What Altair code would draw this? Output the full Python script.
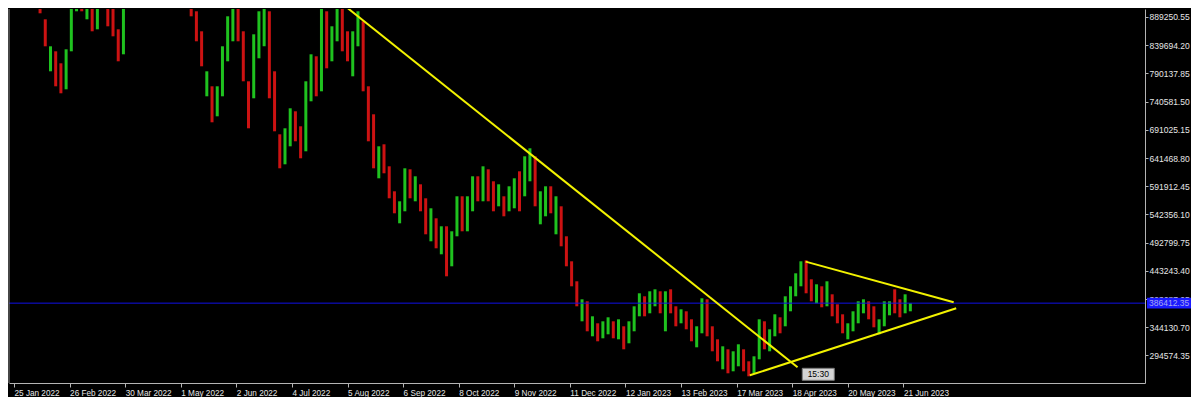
import altair as alt
import pandas as pd

# ---------------- data ----------------
start_date = "2022-01-22"          # first 3-day candle
opens = [
    950000, 975000, 948000, 968000, 945000, 940000, 916840, 885210, 793830, 828970,
    807890, 762200, 828970, 899270, 922110, 885210, 910000, 867640, 925600, 930000,
    908050, 867640, 823700, 920000, 955000, 932000, 960000, 988000, 962000, 935000,
    960000, 908050, 925000, 955000, 925000, 916840, 899270, 864120, 749900, 767470,
    714750, 749900, 811400, 846550, 916840, 864120, 776260, 746380, 816680, 837760,
    899270, 793830, 683120, 630400, 662030, 723540, 697180, 653250, 741110, 820190,
    758680, 899270, 811400, 846550, 908050, 864120, 785040, 837760, 881690, 767470,
    718270, 605800, 665550, 626880, 582950, 526720, 547810, 621610, 565380, 595260,
    570650, 495090, 535500, 472250, 521450, 451160, 503880, 574170, 512660, 547810,
    609310, 565380, 621610, 600530, 556590, 574170, 547810, 553080, 618100, 574170,
    600530, 644460, 524960, 539020, 591740, 507390, 556590, 503880, 459940, 424800,
    354480, 389650, 328140, 350990, 324630, 331660, 354480, 322870, 345720, 315840,
    336930, 363290, 398450, 368560, 380860, 407230, 336930, 410740, 380860, 350990,
    372080, 358020, 308810, 333420, 393160, 345720, 322870, 270160, 305300, 266640,
    275430, 305300, 284210, 263130, 287730, 354480, 301790, 328140, 361530, 345720,
    372080, 398450, 416010, 461700, 428310, 386130, 416010, 380860, 401950, 384380,
    366800, 322870, 336930, 350990, 368560, 389650, 380860, 331660, 345720, 365050,
    410740, 393160, 368560, 372080,
]
closes = [
    975000, 955000, 972000, 940000, 922000, 918000, 895750, 837760, 837760, 767470,
    755170, 832490, 908050, 925600, 899270, 916840, 864120, 925600, 958000, 872910,
    855330, 811400, 916840, 952000, 930000, 965000, 985000, 960000, 938000, 962000,
    925000, 930000, 958000, 930000, 908050, 890480, 846550, 802620, 793830, 704210,
    767470, 837760, 890480, 916840, 846550, 776260, 693670, 858850, 899270, 916840,
    746380, 688390, 623370, 693670, 728810, 670820, 640950, 776260, 823700, 749900,
    908050, 799100, 872910, 916840, 828970, 811400, 864120, 899270, 758680, 670820,
    623370, 662030, 614590, 570650, 544290, 565380, 623370, 570650, 609310, 547810,
    507390, 553080, 482790, 521450, 433590, 512660, 574170, 512660, 574170, 609310,
    565380, 626880, 565380, 547810, 595260, 539020, 591740, 605800, 547810, 644460,
    658520, 556590, 582950, 591740, 544290, 574170, 486310, 451160, 416010, 380860,
    393160, 336930, 363290, 319360, 354480, 361530, 324630, 358020, 305300, 354480,
    380860, 403720, 363290, 407230, 410740, 368560, 407230, 368560, 345720, 375590,
    340440, 319360, 345720, 394940, 328140, 301790, 284210, 310570, 263130, 301790,
    314090, 266640, 257860, 293000, 358020, 305300, 340440, 366800, 333420, 398450,
    416010, 438850, 459940, 403720, 389650, 419520, 379110, 424800, 363290, 350990,
    333420, 350990, 372080, 389650, 393160, 358020, 343960, 358020, 389650, 389650,
    368560, 361530, 401950, 386412.35,
]

tick_dates = [
    "2022-01-25", "2022-02-26", "2022-03-30", "2022-05-01", "2022-06-02", "2022-07-04",
    "2022-08-05", "2022-09-06", "2022-10-08", "2022-11-09", "2022-12-11", "2023-01-12",
    "2023-02-13", "2023-03-17", "2023-04-18", "2023-05-20", "2023-06-21",
]
price_ticks = [
    889250.55, 839694.20, 790137.85, 740581.50, 691025.15, 641468.80, 591912.45,
    542356.10, 492799.75, 443243.40, 393687.05, 344130.70, 294574.35,
]

# hand-drawn trend lines (start / end in date & price)
trend_start = ["2022-07-31T04:00:00Z", "2023-04-25T17:00:00Z", "2023-03-24T14:00:00Z"]
trend_end = ["2023-04-21T02:00:00Z", "2023-07-19T23:00:00Z", "2023-07-21T10:00:00Z"]
trend_p1 = [916840, 459420, 259610]
trend_p2 = [273670, 387890, 377350]

bid_price = [386412.35]
bid_label = ["386412.35"]

tag_date = ["2023-05-03T00:00:00Z"]
tag_price = [261370]
tag_text = ["15:30"]

x_domain = ["2022-01-25T00:00:00Z", "2023-11-04T05:00:00Z"]
y_domain = [246078, 903308]

# ---------------- tables ----------------
dates = pd.date_range(start_date, periods=len(opens), freq="3D")
candles = pd.DataFrame({
    "date": [d.strftime("%Y-%m-%dT%H:%M:%SZ") for d in dates],
    "open": opens,
    "close": closes,
})
candles["dir"] = ["up" if c >= o else "down" for o, c in zip(opens, closes)]

trends = pd.DataFrame({"t1": trend_start, "t2": trend_end, "p1": trend_p1, "p2": trend_p2})
bid = pd.DataFrame({"price": bid_price, "label": bid_label})
tag = pd.DataFrame({"date": tag_date, "price": tag_price, "text": tag_text})

W, H = 1136, 374
FONT = "Liberation Sans"
AXIS_COL = "#b4b4b4"
TEXT_COL = "#e6e6e6"

xscale = alt.Scale(type="utc", domain=x_domain, nice=False)
yscale = alt.Scale(domain=y_domain, nice=False, zero=False)

x_axis = alt.Axis(
    values=[alt.DateTime(year=pd.Timestamp(d).year, month=pd.Timestamp(d).month,
                         date=pd.Timestamp(d).day, utc=True) for d in tick_dates],
    format="%-d %b %Y", labelAlign="left", labelBaseline="top", labelPadding=2,
    tickSize=4, tickColor=AXIS_COL, domainColor=AXIS_COL, labelColor=TEXT_COL,
    labelFont=FONT, labelFontSize=8.2, labelOverlap=False, labelFlush=False,
    labelBound=False, grid=False, title=None,
)
y_axis = alt.Axis(
    orient="right", values=price_ticks, format=".2f", tickSize=3, labelPadding=1,
    tickColor=AXIS_COL, domainColor=AXIS_COL, labelColor=TEXT_COL, labelFont=FONT,
    labelFontSize=8.5, grid=False, title=None, labelOverlap=False,
)

GREEN = "#1fc21f"
RED = "#cc1212"

candle_layer = alt.Chart(candles).mark_bar(size=3, clip=True).encode(
    x=alt.X("date:T", scale=xscale, axis=x_axis, title=None),
    y=alt.Y("open:Q", scale=yscale, axis=y_axis, title=None),
    y2="close:Q",
    color=alt.Color("dir:N", scale=alt.Scale(domain=["up", "down"], range=[GREEN, RED]),
                    legend=None),
)

bid_line = alt.Chart(bid).mark_rule(color="#1010e6", strokeWidth=1).encode(
    y=alt.Y("price:Q", scale=yscale, axis=y_axis, title=None),
)

trend_layer = alt.Chart(trends).mark_rule(color="#f2f200", strokeWidth=2, clip=True).encode(
    x=alt.X("t1:T", scale=xscale, axis=x_axis, title=None),
    x2="t2:T",
    y=alt.Y("p1:Q", scale=yscale, axis=y_axis, title=None),
    y2="p2:Q",
)

tag_box = alt.Chart(tag).mark_rect(
    color="#d4d4d4", stroke="#7a7a7a", strokeWidth=1,
    xOffset=-16, x2Offset=16, yOffset=-6, y2Offset=6,
).encode(
    x=alt.X("date:T", scale=xscale, axis=x_axis, title=None),
    x2="date:T",
    y=alt.Y("price:Q", scale=yscale, axis=y_axis, title=None),
    y2="price:Q",
)
tag_txt = alt.Chart(tag).mark_text(color="#000000", font=FONT, fontSize=8.5).encode(
    x=alt.X("date:T", scale=xscale, axis=x_axis, title=None),
    y=alt.Y("price:Q", scale=yscale, axis=y_axis, title=None),
    text="text:N",
)

bid_box = alt.Chart(bid).mark_rect(color="#1a1aff", yOffset=-5.3, y2Offset=5.3).encode(
    x=alt.value(W + 2), x2=alt.value(W + 46),
    y=alt.Y("price:Q", scale=yscale, axis=y_axis, title=None),
    y2="price:Q",
)
bid_txt = alt.Chart(bid).mark_text(align="left", color="#a8a8f0", font=FONT, fontSize=8.5).encode(
    x=alt.value(W + 4),
    y=alt.Y("price:Q", scale=yscale, axis=y_axis, title=None),
    text="label:N",
)

left_border = alt.Chart(bid).mark_rule(color="#8c8c8c").encode(
    x=alt.value(0), y=alt.value(0), y2=alt.value(H),
)

chart = alt.layer(
    candle_layer, bid_line, trend_layer, tag_box, tag_txt, bid_box, bid_txt, left_border,
).properties(
    width=W, height=H, padding=0, background="#000000",
).configure_view(stroke=None)

chart.save("out.html", embed_options={"renderer": "svg", "actions": False})
